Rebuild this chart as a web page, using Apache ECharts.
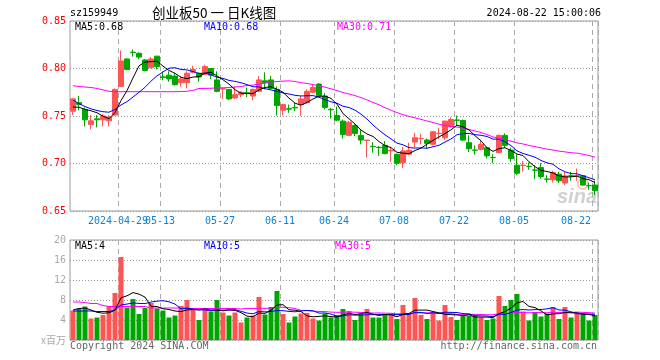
<!DOCTYPE html>
<html><head><meta charset="utf-8">
<script src="https://cdn.jsdelivr.net/npm/echarts/dist/echarts.min.js"></script>
<style>html,body{margin:0;padding:0;background:#fff}#c{width:660px;height:360px}</style>
</head><body><div id="c"></div>
<script>
const dates = ['2024-04-17','2024-04-18','2024-04-19','2024-04-22','2024-04-23','2024-04-24','2024-04-25','2024-04-26','2024-04-29','2024-04-30',
'2024-05-06','2024-05-07','2024-05-08','2024-05-09','2024-05-10','2024-05-13','2024-05-14','2024-05-15','2024-05-16','2024-05-17',
'2024-05-20','2024-05-21','2024-05-22','2024-05-23','2024-05-24','2024-05-27','2024-05-28','2024-05-29','2024-05-30','2024-05-31',
'2024-06-03','2024-06-04','2024-06-05','2024-06-06','2024-06-07','2024-06-11','2024-06-12','2024-06-13','2024-06-14','2024-06-17',
'2024-06-18','2024-06-19','2024-06-20','2024-06-21','2024-06-24','2024-06-25','2024-06-26','2024-06-27','2024-06-28','2024-07-01',
'2024-07-02','2024-07-03','2024-07-04','2024-07-05','2024-07-08','2024-07-09','2024-07-10','2024-07-11','2024-07-12','2024-07-15',
'2024-07-16','2024-07-17','2024-07-18','2024-07-19','2024-07-22','2024-07-23','2024-07-24','2024-07-25','2024-07-26','2024-07-29',
'2024-07-30','2024-07-31','2024-08-01','2024-08-02','2024-08-05','2024-08-06','2024-08-07','2024-08-08','2024-08-09','2024-08-12',
'2024-08-13','2024-08-14','2024-08-15','2024-08-16','2024-08-19','2024-08-20','2024-08-21','2024-08-22'];

const opens = [0.755,0.764,0.757,0.741,0.747,0.746,0.745,0.751,0.781,0.810,
0.8172,0.816,0.809,0.801,0.813,0.7912,0.793,0.792,0.785,0.785,
0.796,0.795,0.794,0.800,0.788,0.7785,0.778,0.769,0.7725,0.7745,
0.771,0.776,0.787,0.788,0.778,0.756,0.7577,0.759,0.762,0.764,
0.775,0.7836,0.771,0.757,0.7505,0.7446,0.7296,0.740,0.7296,0.7242,
0.7181,0.717,0.7191,0.7132,0.7097,0.701,0.7097,0.7226,0.7262,0.7247,
0.7202,0.7315,0.7271,0.7386,0.7458,0.7453,0.7219,0.7141,0.7149,0.7167,
0.7064,0.7114,0.7296,0.7142,0.6982,0.6979,0.6970,0.6932,0.6957,0.6837,
0.6828,0.6888,0.6794,0.6872,0.6868,0.6872,0.6768,0.6773];

const closes = [0.768,0.762,0.746,0.745,0.746,0.750,0.749,0.778,0.808,0.799,
0.8168,0.812,0.798,0.810,0.802,0.7906,0.789,0.783,0.789,0.795,
0.799,0.791,0.802,0.793,0.776,0.7788,0.768,0.7725,0.775,0.774,
0.778,0.788,0.785,0.779,0.761,0.762,0.7572,0.7585,0.768,0.776,
0.780,0.7714,0.759,0.7565,0.7456,0.7306,0.7435,0.7317,0.7247,0.7247,
0.7177,0.7167,0.7104,0.7139,0.7003,0.7132,0.7139,0.7271,0.7264,0.7212,
0.7334,0.7317,0.7446,0.7463,0.7455,0.7247,0.7156,0.7139,0.7202,0.708,
0.7062,0.7296,0.7191,0.7052,0.6898,0.6982,0.6968,0.693,0.6863,0.6835,
0.6905,0.6818,0.687,0.687,0.6872,0.6773,0.6766,0.6713];

const highs = [0.769,0.771,0.759,0.751,0.751,0.752,0.751,0.779,0.819,0.811,
0.820,0.817,0.810,0.812,0.813,0.797,0.797,0.795,0.792,0.797,
0.803,0.796,0.804,0.800,0.797,0.7795,0.778,0.781,0.776,0.780,
0.779,0.792,0.796,0.792,0.781,0.763,0.762,0.7637,0.771,0.778,
0.783,0.7847,0.774,0.7585,0.760,0.7463,0.7446,0.7411,0.7358,0.7247,
0.7226,0.7184,0.7236,0.7177,0.7104,0.7174,0.7219,0.7324,0.7313,0.7264,
0.7341,0.7376,0.7453,0.7487,0.7505,0.7463,0.7296,0.7191,0.7247,0.7174,
0.7097,0.7306,0.7317,0.7167,0.7097,0.7027,0.701,0.6982,0.7003,0.6877,
0.6923,0.6912,0.6912,0.6912,0.6947,0.6877,0.680,0.6818];

const lows = [0.751,0.756,0.739,0.736,0.738,0.739,0.739,0.750,0.781,0.798,
0.8125,0.810,0.797,0.800,0.799,0.7875,0.786,0.782,0.781,0.779,
0.795,0.786,0.793,0.789,0.775,0.768,0.767,0.768,0.770,0.770,
0.7665,0.775,0.778,0.778,0.7505,0.7505,0.7533,0.755,0.750,0.763,
0.774,0.7707,0.757,0.7473,0.7446,0.7261,0.7289,0.7289,0.7202,0.7062,
0.7114,0.708,0.7097,0.7017,0.6982,0.6951,0.7087,0.7167,0.7202,0.7156,
0.7191,0.726,0.7247,0.738,0.7404,0.7236,0.7121,0.7093,0.7139,0.7052,
0.7003,0.7107,0.7167,0.7017,0.6877,0.6916,0.6933,0.6835,0.6842,0.680,
0.680,0.6794,0.6773,0.6818,0.6818,0.6766,0.6724,0.6668];

// volume, in millions
const volumes = [5.9,6.3,6.7,4.3,4.5,5.0,6.7,9.4,16.6,6.5,
8.2,5.2,6.4,7.4,6.3,5.9,4.5,4.9,6.8,8.0,
6.3,4.0,6.0,5.7,8.0,5.5,4.9,5.5,3.5,4.5,
4.9,8.6,5.1,6.6,9.8,5.2,3.5,4.7,5.3,5.4,
4.3,3.9,5.3,4.5,5.0,6.2,5.8,4.0,5.3,6.2,
4.5,4.5,5.0,5.0,4.2,7.0,5.3,8.4,5.0,4.2,
5.6,3.9,7.0,4.6,4.0,4.8,4.8,4.8,4.5,4.0,
4.3,8.8,6.8,8.0,9.2,5.7,3.9,5.6,4.7,5.3,
6.6,4.2,6.6,4.5,5.3,5.3,3.9,5.0];

// moving-average values before enough history is visible
const ma5Head = [0.7595,0.7592,0.757,0.7555];
const ma10Head = [0.7668,0.763,0.760,0.7575,0.7558,0.7545,0.754,0.757,0.7616];
const ma30Head = [0.782,0.781,0.7805,0.780,0.779,0.7775,0.776,0.7756,0.7756,0.7756,
0.7756,0.7756,0.7756,0.7756,0.7756,0.7756,0.7756,0.7756,0.7758,0.776,
0.777,0.779,0.779,0.7792,0.7795,0.7797,0.780,0.7805,0.781];
const volMa5Head = [6.0,6.3,6.4,6.0];
const volMa10Head = [5.8,5.8,5.8,5.8,5.7,5.7,5.7,6.0,7.0];
const volMa30Head = [7.6,7.6,7.5,7.3,7.3,6.9,6.7,6.7,6.7,6.7,
6.7,6.7,6.7,6.4,6.4,6.4,6.4,6.4,6.4,6.4,
6.3,6.3,6.3,6.3,6.3,6.3,6.3,6.3,6.2];

const tickLabels = ['2024-04-29','05-13','05-27','06-11','06-24','07-08','07-22','08-05','08-22'];
const priceLegend = ['MA5:0.68','MA10:0.68','MA30:0.71'];
const volLegend = ['MA5:4','MA10:5','MA30:5'];
const priceTicks = [0.65,0.70,0.75,0.80,0.85];
const volTicks = [0,4,8,12,16,20];

function ma(vals, n, head) {
  return vals.map((v, i) => {
    if (i < head.length) return head[i];
    let s = 0; for (let k = i - n + 1; k <= i; k++) s += vals[k];
    return s / n;
  });
}

const tickIdx = tickLabels.map(t => dates.indexOf(t.length === 5 ? '2024-' + t : t));
const tickText = {}; tickIdx.forEach((ix, k) => tickText[ix] = tickLabels[k]);
const lastIdx = dates.length - 1;
const firstTick = tickIdx[0];

const RED = '#ff5454', GREEN = '#00a600', LBL = '#1080d8';
const kData = dates.map((d, i) => [opens[i], closes[i], lows[i], highs[i]]);
const volData = volumes.map((v, i) => ({value: v, itemStyle: {color: closes[i] >= opens[i] ? RED : GREEN}}));

const MONO = '"DejaVu Sans Mono", "Liberation Mono", monospace';
const chart = echarts.init(document.getElementById('c'), null, {renderer: 'canvas'});

const isTick = (i) => tickIdx.indexOf(i) >= 0;
const richLbl = {
  n: {padding: [0, 6, 0, 0], color: LBL, fontFamily: MONO, fontSize: 10},
  e: {padding: [0, 38, 0, 0], color: LBL, fontFamily: MONO, fontSize: 10}
};

// axis 0: price panel, labels for all ticks except the first (drawn by axis 2 to avoid overlap hiding)
function xAxisDef(gi, labelFilter, showSplit) {
  return {
    type: 'category', gridIndex: gi, data: dates, boundaryGap: true,
    axisLine: {show: false}, axisTick: {show: false},
    axisLabel: {
      show: !!labelFilter, interval: (i) => labelFilter ? labelFilter(i) : false, margin: 5,
      hideOverlap: false, showMinLabel: null, showMaxLabel: null,
      color: LBL, fontFamily: MONO, fontSize: 10,
      formatter: (v, i) => (i === lastIdx ? '{e|' : '{n|') + (tickText[i] || '') + '}',
      rich: richLbl
    },
    splitLine: {show: showSplit, interval: (i) => isTick(i), lineStyle: {color: '#aaaaaa', type: [5, 4], width: 1}}
  };
}

chart.setOption({
  animation: false,
  backgroundColor: '#fff',
  grid: [
    {left: 70, top: 21, width: 528, height: 190, show: true, borderColor: '#9a9a9a', borderWidth: 1, backgroundColor: 'transparent', outerBoundsMode: 'none', containLabel: false},
    {left: 70, top: 240, width: 528, height: 100, show: true, borderColor: '#9a9a9a', borderWidth: 1, backgroundColor: 'transparent', outerBoundsMode: 'none', containLabel: false}
  ],
  xAxis: [
    xAxisDef(0, (i) => isTick(i) && i !== firstTick, true),
    xAxisDef(1, null, true),
    Object.assign(xAxisDef(0, (i) => i === firstTick, false), {position: 'bottom'})
  ],
  yAxis: [
    {type: 'value', gridIndex: 0, min: priceTicks[0], max: priceTicks[priceTicks.length - 1], interval: 0.05,
     axisLine: {show: false}, axisTick: {show: false},
     axisLabel: {color: '#ff0000', fontFamily: MONO, fontSize: 10, margin: 4, formatter: v => v.toFixed(2)},
     splitLine: {show: true, lineStyle: {color: '#999', type: [1, 2], width: 1}}},
    {type: 'value', gridIndex: 1, min: volTicks[0], max: volTicks[volTicks.length - 1], interval: 4,
     axisLine: {show: false}, axisTick: {show: false},
     axisLabel: {color: '#a8a8a8', fontFamily: MONO, fontSize: 10, margin: 4,
       formatter: v => v === 0 ? '{c|x百万}' : String(v),
       rich: {c: {color: '#a8a8a8', fontFamily: '"Noto Sans CJK SC", sans-serif', fontSize: 10}}},
     splitLine: {show: true, lineStyle: {color: '#999', type: [1, 2], width: 1}}}
  ],
  series: [
    {type: 'candlestick', xAxisIndex: 0, yAxisIndex: 0, data: kData, barWidth: 5,
     itemStyle: {color: RED, color0: GREEN, borderColor: RED, borderColor0: GREEN, borderWidth: 1, borderColorDoji: RED},
     emphasis: {disabled: true}, z: 3},
    {type: 'line', xAxisIndex: 0, yAxisIndex: 0, data: ma(closes, 30, ma30Head), symbol: 'none', lineStyle: {color: '#ff00ff', width: 1}, silent: true, z: 4},
    {type: 'line', xAxisIndex: 0, yAxisIndex: 0, data: ma(closes, 10, ma10Head), symbol: 'none', lineStyle: {color: '#0000ff', width: 1}, silent: true, z: 4},
    {type: 'line', xAxisIndex: 0, yAxisIndex: 0, data: ma(closes, 5, ma5Head), symbol: 'none', lineStyle: {color: '#000000', width: 1}, silent: true, z: 4},
    {type: 'bar', xAxisIndex: 1, yAxisIndex: 1, data: volData, barWidth: 5, emphasis: {disabled: true}, z: 3},
    {type: 'line', xAxisIndex: 1, yAxisIndex: 1, data: ma(volumes, 30, volMa30Head), symbol: 'none', lineStyle: {color: '#ff00ff', width: 1}, silent: true, z: 4},
    {type: 'line', xAxisIndex: 1, yAxisIndex: 1, data: ma(volumes, 10, volMa10Head), symbol: 'none', lineStyle: {color: '#0000ff', width: 1}, silent: true, z: 4},
    {type: 'line', xAxisIndex: 1, yAxisIndex: 1, data: ma(volumes, 5, volMa5Head), symbol: 'none', lineStyle: {color: '#000000', width: 1}, silent: true, z: 4}
  ],
  graphic: [
    {type: 'text', x: 70, y: 13, z: 10, style: {text: 'sz159949', fill: '#000', font: '10px ' + MONO, verticalAlign: 'middle', textVerticalAlign: 'middle'}},
    {type: 'text', x: 152, y: 13, z: 10, style: {text: '创业板50 一 日K线图', fill: '#000', font: '13.5px "Noto Sans CJK SC"', verticalAlign: 'middle', textVerticalAlign: 'middle'}},
    {type: 'text', x: 601, y: 13, z: 10, style: {text: '2024-08-22 15:00:06', fill: '#000', font: '10px ' + MONO, align: 'right', textAlign: 'right', verticalAlign: 'middle', textVerticalAlign: 'middle'}},
    {type: 'text', x: 75, y: 27, z: 10, style: {text: priceLegend[0], fill: '#000', font: '10px ' + MONO, verticalAlign: 'middle', textVerticalAlign: 'middle'}},
    {type: 'text', x: 204, y: 27, z: 10, style: {text: priceLegend[1], fill: '#0000ff', font: '10px ' + MONO, verticalAlign: 'middle', textVerticalAlign: 'middle'}},
    {type: 'text', x: 337, y: 27, z: 10, style: {text: priceLegend[2], fill: '#ff00ff', font: '10px ' + MONO, verticalAlign: 'middle', textVerticalAlign: 'middle'}},
    {type: 'text', x: 75, y: 246, z: 10, style: {text: volLegend[0], fill: '#000', font: '10px ' + MONO, verticalAlign: 'middle', textVerticalAlign: 'middle'}},
    {type: 'text', x: 204, y: 246, z: 10, style: {text: volLegend[1], fill: '#0000ff', font: '10px ' + MONO, verticalAlign: 'middle', textVerticalAlign: 'middle'}},
    {type: 'text', x: 335, y: 246, z: 10, style: {text: volLegend[2], fill: '#ff00ff', font: '10px ' + MONO, verticalAlign: 'middle', textVerticalAlign: 'middle'}},
    {type: 'text', x: 70, y: 346, z: 10, style: {text: 'Copyright 2024 SINA.COM', fill: '#666', font: '10px ' + MONO, verticalAlign: 'middle', textVerticalAlign: 'middle'}},
    {type: 'text', x: 597, y: 346, z: 10, style: {text: 'http://finance.sina.com.cn', fill: '#666', font: '10px ' + MONO, align: 'right', textAlign: 'right', verticalAlign: 'middle', textVerticalAlign: 'middle'}},
    {type: 'text', x: 597, y: 197, z: 1, style: {text: 'sina', fill: 'rgba(150,150,150,0.45)', font: 'italic bold 20px "Liberation Sans", Arial', align: 'right', textAlign: 'right', verticalAlign: 'middle', textVerticalAlign: 'middle'}},
    {type: 'circle', z: 1, shape: {cx: 583, cy: 184, r: 5}, style: {fill: 'none', stroke: 'rgba(255,110,110,0.45)', lineWidth: 2}}
  ]
});
</script>
</body></html>
